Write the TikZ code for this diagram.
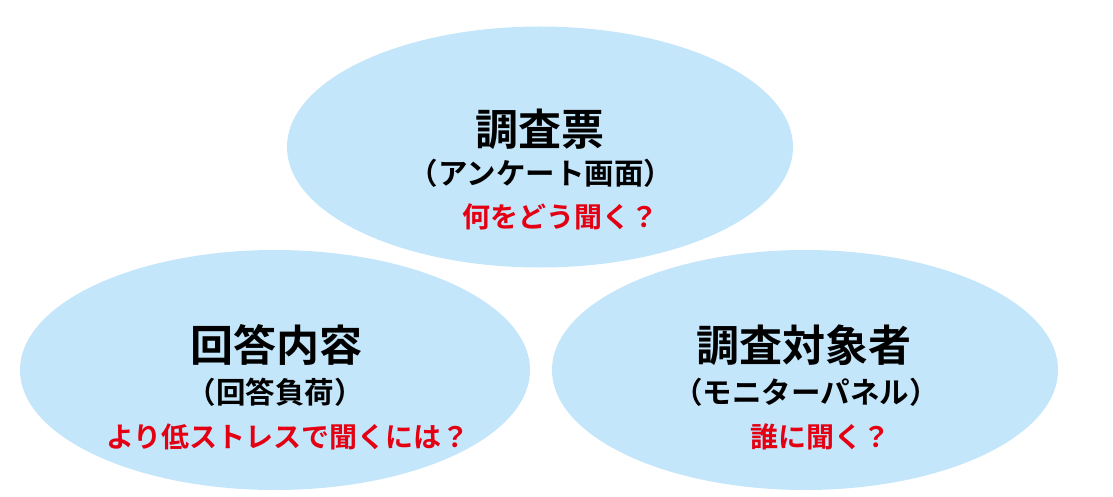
\documentclass[tikz,border=0pt]{standalone}
\usepackage{fontspec}
\newfontfamily\jpb{Noto Sans CJK JP Bold}
\usetikzlibrary{shapes.geometric}
\definecolor{bubble}{RGB}{196,230,250}
\definecolor{qred}{RGB}{228,0,18}
\tikzset{
  bubblebox/.style={ellipse, fill=bubble, draw=none, inner sep=0pt},
  titletext/.style={inner sep=0pt, font=\jpb\fontsize{43}{48}\selectfont, text=black},
  subtext/.style={inner sep=0pt, font=\jpb\fontsize{29.5}{34}\selectfont, text=black},
  qtext/.style={inner sep=0pt, font=\jpb\fontsize{28}{33}\selectfont, text=qred},
}
\begin{document}
\begin{tikzpicture}[x=1pt,y=-1pt]
\useasboundingbox (0,0) rectangle (1113,497);
\node[bubblebox, minimum width=506pt, minimum height=241pt] (top) at (540,147) {};
\node[bubblebox, minimum width=510pt, minimum height=240pt] (left) at (275,370) {};
\node[bubblebox, minimum width=506pt, minimum height=240pt] (right) at (805,370) {};

\node[titletext] (t1) at (540,129) {調査票};
\node[subtext] (s1) at (541,173) {（アンケート画面）};
\node[qtext] (q1) at (560,217) {何をどう聞く？};

\node[titletext] (t2) at (276,345) {回答内容};
\node[subtext] (s2) at (275,392) {（回答負荷）};
\node[qtext] (q2) at (288,437) {より低ストレスで聞くには？};

\node[titletext] (t3) at (804,345) {調査対象者};
\node[subtext] (s3) at (806,392) {（モニターパネル）};
\node[qtext] (q3) at (820,437) {誰に聞く？};
\end{tikzpicture}
\end{document}
